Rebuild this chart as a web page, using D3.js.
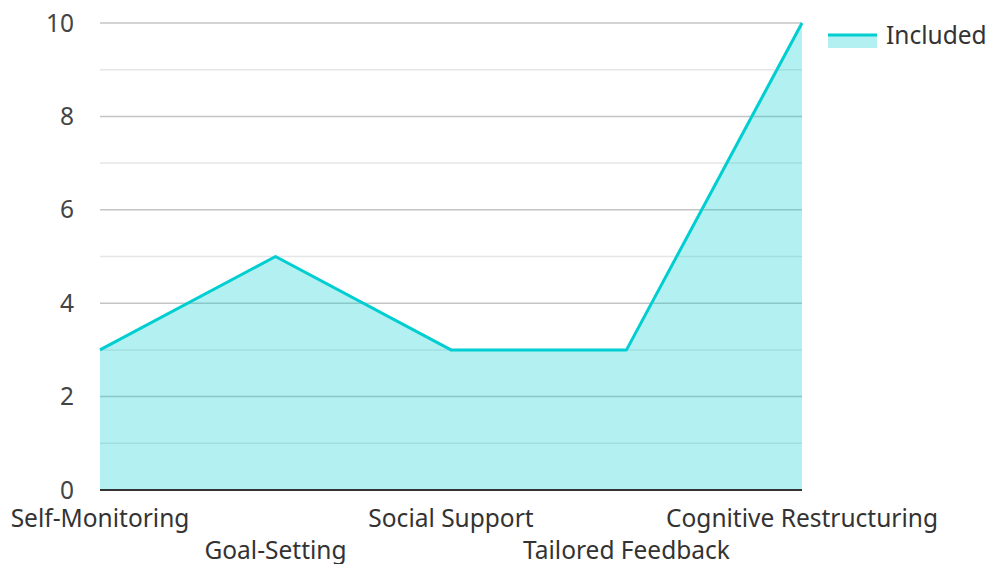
<!DOCTYPE html>
<html><head><meta charset="utf-8">
<script src="https://cdn.jsdelivr.net/npm/d3@7"></script>
<style>body{margin:0;background:#fff;font-family:"Noto Sans",sans-serif;}</style>
</head><body><svg id="c" width="992" height="564"></svg>
<script>
const categories = ["Self-Monitoring","Goal-Setting","Social Support","Tailored Feedback","Cognitive Restructuring"];
const included = [3,5,3,3,10];
const yTicks = [0,2,4,6,8,10];
const seriesName = "Included";

(function(){
const svg = d3.select("#c");
const mL=100,mR=802,mT=23,mB=490;
const x = d3.scalePoint().domain(categories).range([mL,mR]);
const y = d3.scaleLinear().domain([0,10]).range([mB,mT]);

const minor = d3.range(1,10,2);
svg.append("g").selectAll("line").data(minor).join("line")
  .attr("x1",mL).attr("x2",mR).attr("y1",d=>y(d)).attr("y2",d=>y(d))
  .attr("stroke","#e6e6e6").attr("stroke-width",1.5);
svg.append("g").selectAll("line").data(yTicks.filter(d=>d>0)).join("line")
  .attr("x1",mL).attr("x2",mR).attr("y1",d=>y(d)).attr("y2",d=>y(d))
  .attr("stroke","#c4c4c4").attr("stroke-width",1.5);

const data = categories.map((c,i)=>({c,v:included[i]}));
svg.append("path").datum(data)
  .attr("d",d3.area().x(d=>x(d.c)).y0(y(0)).y1(d=>y(d.v)))
  .attr("fill","rgba(0,206,209,0.3)");
svg.append("path").datum(data)
  .attr("d",d3.line().x(d=>x(d.c)).y(d=>y(d.v)))
  .attr("fill","none").attr("stroke","#00CED1").attr("stroke-width",3).attr("stroke-linejoin","round");

svg.append("line").attr("x1",mL).attr("x2",mR).attr("y1",y(0)).attr("y2",y(0))
  .attr("stroke","#333").attr("stroke-width",2);

svg.append("g").selectAll("text").data(yTicks).join("text")
  .attr("x",74).attr("y",d=>y(d)).attr("dy","0.35em").attr("text-anchor","end")
  .attr("fill","#444").attr("font-size",24.5).text(d=>d);

svg.append("g").selectAll("text").data(categories).join("text")
  .attr("x",d=>x(d)).attr("y",(d,i)=>i%2===0?527:559).attr("text-anchor","middle")
  .attr("fill","#333").attr("font-size",24.5).text(d=>d);

const lg = svg.append("g");
lg.append("rect").attr("x",828).attr("y",36).attr("width",49).attr("height",12).attr("fill","rgba(0,206,209,0.3)");
lg.append("line").attr("x1",828).attr("x2",877).attr("y1",35).attr("y2",35).attr("stroke","#00CED1").attr("stroke-width",3);
lg.append("text").attr("x",886).attr("y",44).attr("fill","#333").attr("font-size",24.5).text(seriesName);
})();
</script></body></html>
